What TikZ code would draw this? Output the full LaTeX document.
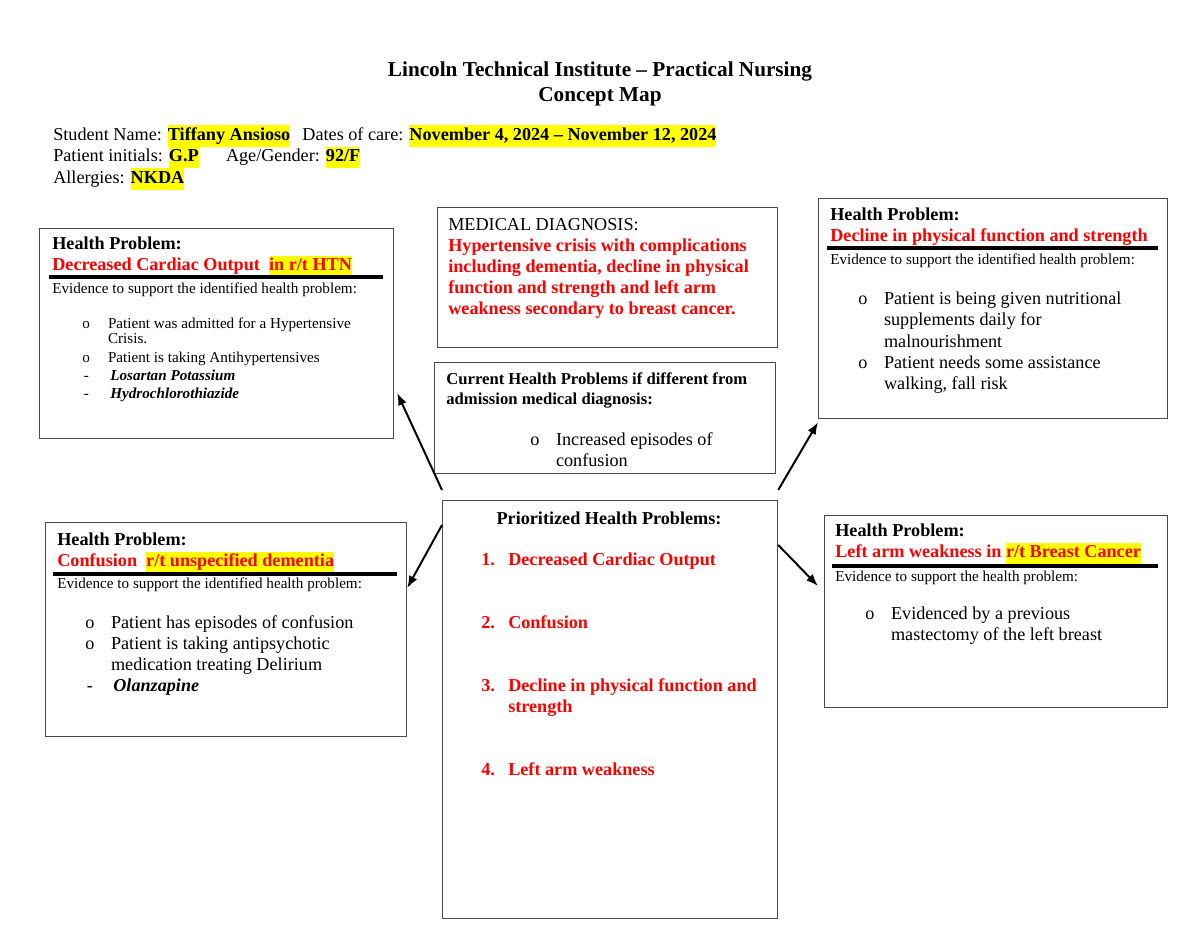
\documentclass[tikz,border=0pt]{standalone}
\usepackage{fontspec}
\setmainfont{Liberation Serif}
\usetikzlibrary{arrows.meta,positioning}
\definecolor{ProblemRed}{RGB}{255,0,0}
\definecolor{MarkYellow}{RGB}{255,255,0}
\definecolor{FrameGray}{RGB}{75,75,75}
\newcommand{\marked}[1]{{\setlength{\fboxsep}{0pt}\colorbox{MarkYellow}{\strut#1}}}
\newcommand{\bulletmark}{\makebox[17pt][l]{o}}
\newcommand{\dashmark}{\hspace*{1pt}\makebox[17.5pt][l]{-}}

\begin{document}
\begin{tikzpicture}[x=0.66pt, y=-0.66pt, >={Latex[length=8pt,width=6pt]},
    frame/.style 2 args={draw=FrameGray, line width=0.8pt, anchor=north west, inner sep=0pt,
      minimum width=#1*0.66pt, minimum height=#2*0.66pt},
    txt/.style={anchor=north west, inner sep=0pt, align=left},
    headtxt/.style={txt, font=\fontsize{12}{13.8}\selectfont\bfseries},
    evtxt/.style={txt, font=\fontsize{10}{12}\selectfont},
    listtxt/.style={txt, font=\fontsize{12}{13.9}\selectfont},
    headrule/.style={line width=2pt},
    link/.style={->, line width=1.3pt}]
  \fill[white] (0,0) rectangle (1200,927);
  \useasboundingbox (0,0) rectangle (1200,927);

  % header
  \node[anchor=north, align=center, inner sep=0pt, font=\fontsize{14}{16.5}\selectfont\bfseries] (title) at (600,61)
    {Lincoln Technical Institute – Practical Nursing\\Concept Map};
  \node[txt, font=\fontsize{12}{14.2}\selectfont] (info) at (53,125)
    {Student Name: \marked{\textbf{Tiffany Ansioso}}\hspace{8pt}Dates of care: \marked{\textbf{November 4, 2024 – November 12, 2024}}\\
     Patient initials: \marked{\textbf{G.P}}\hspace{18pt}Age/Gender: \marked{\textbf{92/F}}\\
     Allergies: \marked{\textbf{NKDA}}};

  % boxes
  \node[frame={354}{210}] (hpA) at (39,228) {};
  \node[frame={340}{140}] (meddx) at (437,207) {};
  \node[frame={341}{111}] (current) at (434,362) {};
  \node[frame={349}{220}] (hpC) at (818,198) {};
  \node[frame={361}{214}] (hpB) at (45,522) {};
  \node[frame={335}{418}] (prio) at (442,500) {};
  \node[frame={343}{192}] (hpD) at (824,515) {};

  % decreased cardiac output
  \node[headtxt] (headA) at (52,237) {Health Problem:\\
    \textcolor{ProblemRed}{Decreased Cardiac Output\ \ \marked{in r/t HTN}}};
  \draw[headrule] (49,277) -- (383,277);
  \node[evtxt] (evA) at (52,283) {Evidence to support the identified health problem:};
  \node[txt, font=\fontsize{10}{11.9}\selectfont] (listA) at (82,318)
    {\bulletmark Patient was admitted for a Hypertensive\\[-2pt]
     \hspace*{17pt}Crisis.\\
     \bulletmark Patient is taking Antihypertensives\\
     \dashmark\textbf{\textit{Losartan Potassium}}\\
     \dashmark\textbf{\textit{Hydrochlorothiazide}}};

  % medical diagnosis
  \node[listtxt] (dxtext) at (448,218) {MEDICAL DIAGNOSIS:\\
    \textcolor{ProblemRed}{\bfseries Hypertensive crisis with complications}\\
    \textcolor{ProblemRed}{\bfseries including dementia, decline in physical}\\
    \textcolor{ProblemRed}{\bfseries function and strength and left arm}\\
    \textcolor{ProblemRed}{\bfseries weakness secondary to breast cancer.}};

  % current problems
  \node[txt, font=\fontsize{11}{13.2}\selectfont\bfseries] (curhead) at (446,372)
    {Current Health Problems if different from\\admission medical diagnosis:};
  \node[listtxt] (curlist) at (530,432) {\bulletmark Increased episodes of\\
    \hspace*{17pt}confusion};

  % decline in physical function
  \node[headtxt] (headC) at (830,208) {Health Problem:\\
    \textcolor{ProblemRed}{Decline in physical function and strength}};
  \draw[headrule] (827,248) -- (1158,248);
  \node[evtxt] (evC) at (830,254) {Evidence to support the identified health problem:};
  \node[listtxt] (listC) at (858,292) {\bulletmark Patient is being given nutritional\\
    \hspace*{17pt}supplements daily for\\
    \hspace*{17pt}malnourishment\\
    \bulletmark Patient needs some assistance\\
    \hspace*{17pt}walking, fall risk};

  % confusion
  \node[headtxt] (headB) at (57,533) {Health Problem:\\
    \textcolor{ProblemRed}{Confusion\ \ \marked{r/t unspecified dementia}}};
  \draw[headrule] (53,574) -- (397,574);
  \node[evtxt] (evB) at (57,578) {Evidence to support the identified health problem:};
  \node[listtxt] (listB) at (85,615) {\bulletmark Patient has episodes of confusion\\
    \bulletmark Patient is taking antipsychotic\\
    \hspace*{17pt}medication treating Delirium\\
    \dashmark\textbf{\textit{Olanzapine}}};

  % left arm weakness
  \node[headtxt] (headD) at (835,524) {Health Problem:\\
    \textcolor{ProblemRed}{Left arm weakness in \marked{r/t Breast Cancer}}};
  \draw[headrule] (832,566) -- (1158,566);
  \node[evtxt] (evD) at (835,571) {Evidence to support the health problem:};
  \node[listtxt] (listD) at (865,607) {\bulletmark Evidenced by a previous\\
    \hspace*{17pt}mastectomy of the left breast};

  % prioritized problems
  \node[anchor=north, inner sep=0pt, font=\fontsize{12}{14}\selectfont\bfseries] (priohead) at (609,512)
    {Prioritized Health Problems:};
  \node[txt, font=\fontsize{12}{13.9}\selectfont\bfseries, text=ProblemRed] (priolist) at (481,553)
    {\makebox[17.8pt][l]{1.}Decreased Cardiac Output\\[27.7pt]
     \makebox[17.8pt][l]{2.}Confusion\\[27.2pt]
     \makebox[17.8pt][l]{3.}Decline in physical function and\\
     \hspace*{17.8pt}strength\\[27.7pt]
     \makebox[17.8pt][l]{4.}Left arm weakness};

  % connectors
  \draw[link] ([shift={(0,-10)}]prio.north west) -- ([shift={(3,165)}]hpA.north east);
  \draw[link] ([shift={(0,25)}]prio.north west) -- ([shift={(0,66)}]hpB.north east);
  \draw[link] ([shift={(0,-10)}]prio.north east) -- ([shift={(0,3)}]hpC.south west);
  \draw[link] ([shift={(0,45)}]prio.north east) -- ([shift={(-6,71)}]hpD.north west);
\end{tikzpicture}
\end{document}
